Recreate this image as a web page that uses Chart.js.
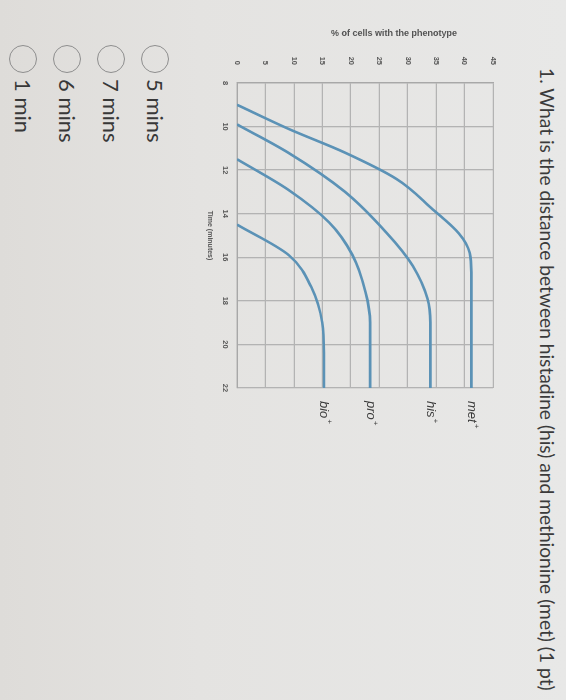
<!DOCTYPE html>
<html>
<head>
<meta charset="utf-8">
<script src="https://cdn.jsdelivr.net/npm/chart.js@4.4.1/dist/chart.umd.min.js"></script>
<style>
html, body { margin: 0; padding: 0; width: 566px; height: 700px; overflow: hidden; }
body { background: linear-gradient(to right, #dedcd9 0%, #e4e3e1 35%, #e8e8e7 100%); }
#page {
    position: absolute; left: 0; top: 0; width: 700px; height: 566px;
    transform-origin: 0 0; transform: translate(566px, 0) rotate(90deg);
    font-family: Lato, "Open Sans", sans-serif;
}
.question { position: absolute; left: 68px; top: 7px; font-size: 19.2px; color: #3b3b3b; white-space: nowrap; }
.chart-box { position: absolute; left: 0; top: 10px; width: 480px; height: 380px; }
.opt { position: absolute; left: 45px; height: 29px; display: flex; align-items: center; font-size: 22px; color: #383838; }
.opt .dot { width: 26px; height: 26px; border: 1.5px solid #8e8e8e; border-radius: 50%; margin-right: 6px; }
</style>
</head>
<body>
<div id="page">
    <div class="question">1. What is the distance between histadine (his) and methionine (met) (1 pt)</div>
    <div class="chart-box"><canvas id="myChart" width="480" height="380"></canvas></div>
    <div class="opt" style="top:396px"><span class="dot"></span>5 mins</div>
    <div class="opt" style="top:440px"><span class="dot"></span>7 mins</div>
    <div class="opt" style="top:484px"><span class="dot"></span>6 mins</div>
    <div class="opt" style="top:528px"><span class="dot"></span>1 min</div>
</div>
<script>
// values (time in minutes, % of cells)
const geneNames = ['met', 'his', 'pro', 'bio'];
const metTimes = [9, 10.1, 11.2, 12.4, 13.8, 14.9, 15.8, 16.7, 22];
const metPct = [0, 9, 19, 28, 34.4, 39, 40.9, 41.2, 41.2];
const hisTimes = [9.9, 11.2, 13.0, 14.85, 16.4, 17.9, 19, 22];
const hisPct = [0, 9, 19, 26.2, 30.9, 33.5, 34, 34];
const proTimes = [11.5, 12.9, 14.4, 15.9, 17.6, 19, 22];
const proPct = [0, 9, 16.2, 20.3, 22.6, 23.4, 23.4];
const bioTimes = [14.5, 15.9, 17.45, 19, 20.4, 22];
const bioPct = [0, 9.1, 13.2, 15, 15.3, 15.3];
const timeTicks = [8, 10, 12, 14, 16, 18, 20, 22];
const pctTicks = [0, 5, 10, 15, 20, 25, 30, 35, 40, 45];

const toPoints = (ts, vs) => ts.map((t, i) => ({ x: t, y: vs[i] }));
const series = [toPoints(metTimes, metPct), toPoints(hisTimes, hisPct), toPoints(proTimes, proPct), toPoints(bioTimes, bioPct)];

const endLabels = {
    id: 'endLabels',
    afterDatasetsDraw(chart) {
        const ctx = chart.ctx;
        chart.data.datasets.forEach((ds, i) => {
            const pts = chart.getDatasetMeta(i).data;
            const last = pts[pts.length - 1];
            ctx.save();
            ctx.fillStyle = '#3a3a3a';
            ctx.textBaseline = 'middle';
            ctx.font = 'italic 13px "Liberation Sans"';
            const x = last.x + 13;
            ctx.fillText(ds.label, x, last.y);
            const w = ctx.measureText(ds.label).width;
            ctx.font = 'italic 8px "Liberation Sans"';
            ctx.fillText('+', x + w + 1, last.y - 5);
            ctx.restore();
        });
    }
};

const gridStyle = { color: '#b3b3b3', lineWidth: 1.3, drawTicks: false };
const tickFont = { family: 'Liberation Sans', size: 7.5, weight: 'bold' };

const ctx = document.getElementById('myChart').getContext('2d');
const myChart = new Chart(ctx, {
    type: 'line',
    data: {
        datasets: series.map((pts, i) => ({
            label: geneNames[i],
            data: pts,
            borderColor: '#5b92b6',
            borderWidth: 2.6,
            pointRadius: 0,
            cubicInterpolationMode: 'monotone',
            fill: false
        }))
    },
    plugins: [endLabels],
    options: {
        responsive: false,
        animation: false,
        layout: { padding: { left: 0, top: 63, right: 92, bottom: 0 } },
        plugins: { legend: { display: false }, tooltip: { enabled: false } },
        scales: {
            x: {
                type: 'linear', min: 8, max: 22,
                afterBuildTicks: s => { s.ticks = timeTicks.map(v => ({ value: v })); },
                afterFit: s => { s.height = 61; },
                grid: gridStyle,
                border: { color: '#a8a8a8', width: 1.3 },
                ticks: { padding: 7, color: '#555', font: tickFont },
                title: { display: true, text: 'Time (minutes)', color: '#555',
                    font: { family: 'Liberation Sans', size: 7, weight: 'bold' }, padding: { top: 30, bottom: 30 } }
            },
            y: {
                type: 'linear', min: 0, max: 45,
                afterBuildTicks: s => { s.ticks = pctTicks.map(v => ({ value: v })); },
                afterFit: s => { s.width = 83; },
                grid: gridStyle,
                border: { color: '#a8a8a8', width: 1.3 },
                ticks: { padding: 18, color: '#555', font: tickFont },
                title: { display: true, align: 'end', text: '% of cells with the phenotype' + '\u2003'.repeat(4),
                    color: '#555', font: { family: 'Liberation Sans', size: 9, weight: 'bold' }, padding: { top: 28, bottom: 28 } }
            }
        }
    }
});
</script>
</body>
</html>
